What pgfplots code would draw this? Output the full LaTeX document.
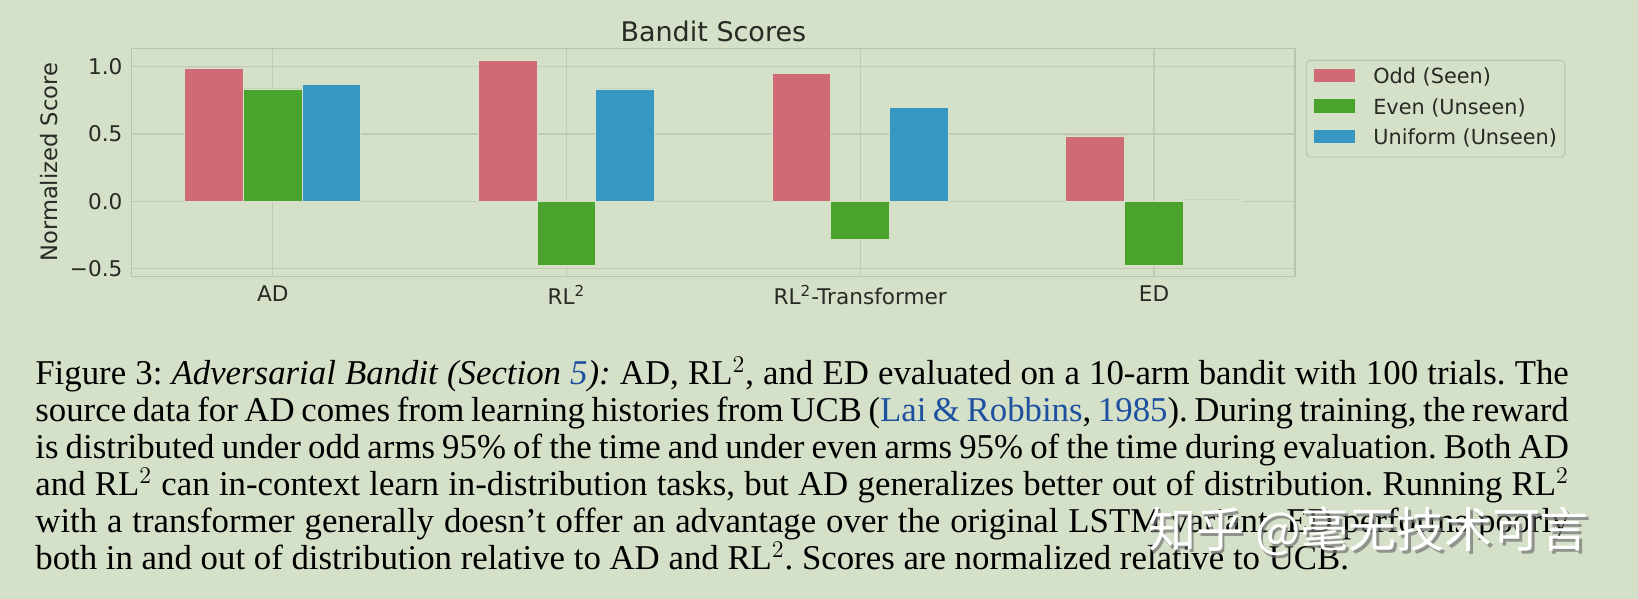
\documentclass[border=0pt]{standalone}
\usepackage{fontspec}
\usepackage{pgfplots}
\pgfplotsset{compat=1.18}
\setmainfont{Liberation Serif}
\newfontfamily\dejavu{DejaVu Sans}
\newfontfamily\cjk{Noto Sans CJK SC}
\definecolor{bg}{RGB}{212,224,200}
\definecolor{oddc}{RGB}{207,107,116}
\definecolor{evenc}{RGB}{73,163,45}
\definecolor{unic}{RGB}{53,151,194}
\definecolor{gridc}{RGB}{192,203,182}
\definecolor{framec}{RGB}{184,195,174}
\definecolor{legc}{RGB}{182,192,172}
\definecolor{textc}{RGB}{40,42,36}
\definecolor{linkc}{RGB}{30,80,160}
\pgfplotsset{sqleg/.style={legend image code/.code={\fill[##1,draw=none,sharp corners] (0pt,-2pt) rectangle (20.5pt,4.7pt);}}}
\begin{document}
\begin{tikzpicture}
\fill[bg] (0,0) rectangle (819pt,299.5pt);
\begin{axis}[
  at={(65.85pt,161.35pt)}, anchor=south west,
  scale only axis, width=581.65pt, height=114pt,
  xmin=-0.48, xmax=3.48, ymin=-0.5576, ymax=1.1375,
  xtick={0,1,2,3},
  xticklabels={AD,RL\textsuperscript{2},RL\textsuperscript{2}-Transformer,ED},
  ytick={-0.5,0,0.5,1},
  yticklabels={{−0.5},{0.0},{0.5},{1.0}},
  major tick length=0pt,
  tick style={draw=none},
  grid=major,
  major grid style={draw=gridc, line width=0.6pt},
  axis line style={draw=framec, line width=0.6pt},
  ticklabel style={font=\dejavu\fontsize{10.8pt}{13pt}\selectfont, text=textc},
  yticklabel style={anchor=east, inner xsep=4.45pt, inner ysep=0pt},
  xticklabel style={anchor=north, inner xsep=0pt, inner ysep=4.35pt},
  title={Bandit Scores},
  title style={at={(0.5,1)}, anchor=base, yshift=-2.7pt, font=\dejavu\fontsize{13.5pt}{16pt}\selectfont, text=textc},
  ylabel={Normalized Score},
  ylabel style={at={(axis description cs:-0.0707,0.5)}, anchor=center, font=\dejavu\fontsize{11.3pt}{13pt}\selectfont, text=textc},
  legend cell align=left,
  legend style={at={(1.0094,0.9487)}, anchor=north west, draw=legc, fill=bg,
    rounded corners=2pt, font=\dejavu\fontsize{10.4pt}{12pt}\selectfont, text=textc,
    inner xsep=4pt, inner ysep=1.42pt, row sep=0pt,
    nodes={inner sep=0pt, text height=10.38pt, text depth=4.79pt},
    /tikz/every odd column/.append style={column sep=9pt}},
]
\addplot[ybar, bar width=0.2, bar shift=0pt, fill=oddc, draw=bg, line width=0.4pt, sqleg]
  coordinates {(-0.2,0.991) (0.8,1.050) (1.8,0.952) (2.8,0.486)};
\addplot[ybar, bar width=0.2, bar shift=0pt, fill=evenc, draw=bg, line width=0.4pt, sqleg]
  coordinates {(0,0.835) (1,-0.479) (2,-0.283) (3,-0.479)};
\addplot[ybar, bar width=0.2, bar shift=0pt, fill=unic, draw=bg, line width=0.4pt, sqleg]
  coordinates {(0.2,0.872) (1.2,0.835) (2.2,0.701) (3.2,0.010)};
\legend{Odd (Seen), Even (Unseen), Uniform (Unseen)}
\end{axis}
\node[anchor=base west, inner sep=0pt, text=black] at (17.5pt,107pt) {\parbox[t]{766.7pt}{\frenchspacing\fontsize{17.4pt}{18.5pt}\selectfont
Figure 3: \textit{Adversarial Bandit (Section \textcolor{linkc}{5}):} AD, RL$^2$, and ED evaluated on a 10-arm bandit with 100 trials. The\linebreak
source data for AD comes from learning histories from UCB (\textcolor{linkc}{Lai \& Robbins}, \textcolor{linkc}{1985}). During training, the reward\linebreak
is distributed under odd arms 95\% of the time and under even arms 95\% of the time during evaluation. Both AD\linebreak
and RL$^2$ can in-context learn in-distribution tasks, but AD generalizes better out of distribution. Running RL$^2$\linebreak
with a transformer generally doesn’t offer an advantage over the original LSTM variant. ED performs poorly\linebreak
both in and out of distribution relative to AD and RL$^2$. Scores are normalized relative to UCB.}};
\node[font=\cjk\fontsize{24pt}{24pt}\selectfont, text=black!55, opacity=0.7] at (685.5pt,32.3pt) {知乎 @毫无技术可言};
\node[font=\cjk\fontsize{24pt}{24pt}\selectfont, text=white] at (684.25pt,34pt) {知乎 @毫无技术可言};
\end{tikzpicture}
\end{document}
